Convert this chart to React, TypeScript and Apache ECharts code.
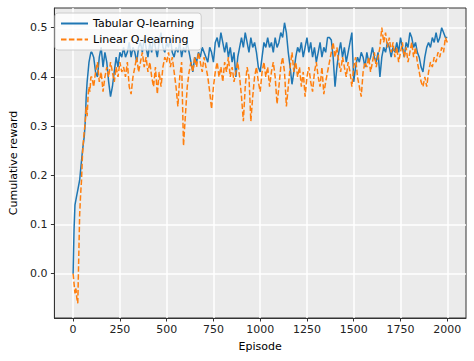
import React, { useEffect, useRef } from "react";
import * as echarts from "echarts";

const earlyEpisodes = [0, 5, 10, 15, 20, 25, 30, 35, 40, 45, 50, 55, 60, 65, 70, 75, 80, 85, 90, 95];

const tabularEarly = [0.0, 0.09, 0.14, 0.15, 0.16, 0.17, 0.18, 0.19, 0.21, 0.23, 0.25, 0.265, 0.28, 0.31, 0.36, 0.39, 0.41, 0.43, 0.44, 0.45];
const linearEarly = [0.0, -0.02, -0.04, -0.03, -0.05, -0.06, 0.03, 0.12, 0.16, 0.19, 0.24, 0.27, 0.29, 0.31, 0.34, 0.32, 0.36, 0.38, 0.37, 0.4];

// episodes 100..2000, every 10
const tabularMain = [
  0.45, 0.44, 0.41, 0.40, 0.44, 0.46, 0.42, 0.45, 0.43, 0.39,
  0.36, 0.38, 0.41, 0.44, 0.42, 0.45, 0.44, 0.46, 0.44, 0.45,
  0.47, 0.44, 0.46, 0.45, 0.43, 0.46, 0.47, 0.45, 0.48, 0.46,
  0.44, 0.47, 0.45, 0.48, 0.46, 0.44, 0.47, 0.49, 0.46, 0.45,
  0.47, 0.46, 0.48, 0.45, 0.44, 0.46, 0.45, 0.47, 0.44, 0.46,
  0.45, 0.47, 0.45, 0.43, 0.41, 0.44, 0.43, 0.45, 0.44, 0.46,
  0.45, 0.44, 0.43, 0.46, 0.45, 0.43, 0.47, 0.48, 0.46, 0.49,
  0.47, 0.45, 0.47, 0.44, 0.46, 0.43, 0.45, 0.40, 0.44, 0.46,
  0.48, 0.46, 0.49, 0.47, 0.45, 0.48, 0.46, 0.47, 0.45, 0.42,
  0.41, 0.44, 0.47, 0.46, 0.48, 0.46, 0.47, 0.45, 0.48, 0.46,
  0.47, 0.49, 0.48, 0.51, 0.49, 0.45, 0.42, 0.385, 0.41, 0.44,
  0.46, 0.45, 0.47, 0.44, 0.46, 0.48, 0.45, 0.47, 0.44, 0.46,
  0.43, 0.45, 0.47, 0.44, 0.46, 0.45, 0.48, 0.48, 0.475, 0.44,
  0.38, 0.42, 0.45, 0.47, 0.44, 0.46, 0.43, 0.45, 0.47, 0.49,
  0.39, 0.42, 0.44, 0.43, 0.45, 0.44, 0.42, 0.45, 0.43, 0.44,
  0.46, 0.44, 0.43, 0.45, 0.40, 0.44, 0.46, 0.45, 0.47, 0.46,
  0.44, 0.46, 0.45, 0.47, 0.45, 0.48, 0.46, 0.44, 0.47, 0.46,
  0.49, 0.48, 0.46, 0.47, 0.45, 0.44, 0.42, 0.41, 0.44, 0.46,
  0.47, 0.46, 0.48, 0.47, 0.49, 0.47, 0.48, 0.50, 0.49, 0.48,
  0.48,
];

const linearMain = [
  0.40, 0.38, 0.41, 0.43, 0.39, 0.41, 0.37, 0.40, 0.42, 0.40,
  0.43, 0.41, 0.39, 0.42, 0.40, 0.43, 0.41, 0.42, 0.40, 0.43,
  0.38, 0.365, 0.40, 0.42, 0.44, 0.41, 0.43, 0.45, 0.42, 0.44,
  0.41, 0.43, 0.40, 0.38, 0.42, 0.365, 0.41, 0.38, 0.42, 0.44,
  0.43, 0.45, 0.42, 0.44, 0.41, 0.38, 0.34, 0.40, 0.43, 0.26,
  0.32, 0.38, 0.41, 0.43, 0.41, 0.44, 0.42, 0.45, 0.43, 0.41,
  0.44, 0.42, 0.40, 0.37, 0.335, 0.38, 0.41, 0.43, 0.40, 0.42,
  0.39, 0.43, 0.41, 0.44, 0.40, 0.42, 0.39, 0.41, 0.43, 0.40,
  0.36, 0.31, 0.38, 0.42, 0.40, 0.31, 0.36, 0.40, 0.42, 0.39,
  0.37, 0.41, 0.43, 0.40, 0.42, 0.38, 0.41, 0.43, 0.40, 0.345,
  0.38, 0.42, 0.44, 0.41, 0.34, 0.38, 0.42, 0.45, 0.41, 0.43,
  0.40, 0.42, 0.38, 0.41, 0.36, 0.40, 0.42, 0.39, 0.37, 0.41,
  0.43, 0.40, 0.38, 0.42, 0.365, 0.39, 0.41, 0.43, 0.45, 0.47,
  0.44, 0.46, 0.43, 0.41, 0.44, 0.42, 0.40, 0.43, 0.41, 0.38,
  0.42, 0.44, 0.40, 0.38, 0.36, 0.41, 0.43, 0.42, 0.44, 0.41,
  0.43, 0.45, 0.42, 0.44, 0.46, 0.50, 0.47, 0.49, 0.46, 0.48,
  0.45, 0.47, 0.44, 0.46, 0.43, 0.45, 0.47, 0.44, 0.46, 0.43,
  0.45, 0.47, 0.44, 0.46, 0.43, 0.41, 0.39, 0.38, 0.40, 0.38,
  0.41, 0.43, 0.42, 0.44, 0.43, 0.45, 0.44, 0.46, 0.45, 0.48,
  0.47,
];

const xTicks = [0, 250, 500, 750, 1000, 1250, 1500, 1750, 2000];
const yTicks = [0.0, 0.1, 0.2, 0.3, 0.4, 0.5];

const mainEpisodes: number[] = [];
for (let i = 0; i < tabularMain.length; i++) mainEpisodes.push(100 + i * 10);

const episodes = [...earlyEpisodes, ...mainEpisodes];
const tabular = [...tabularEarly, ...tabularMain];
const linear = [...linearEarly, ...linearMain];

const FONT = "DejaVu Sans";

export default function App() {
  const ref = useRef<HTMLDivElement>(null);
  useEffect(() => {
    if (!ref.current) return;
    const chart = echarts.init(ref.current, undefined, { renderer: "svg" });
    const tickColor = "#333";
    chart.setOption({
      animation: false,
      grid: {
        left: 51,
        right: 8,
        top: 8,
        bottom: 43,
        show: true,
        backgroundColor: "#EBEBEB",
        borderColor: "#333",
        borderWidth: 1,
      },
      legend: {
        orient: "vertical",
        left: 55,
        top: 13,
        itemWidth: 27,
        itemHeight: 11,
        itemGap: 5,
        padding: [5, 7, 5, 5],
        backgroundColor: "rgba(255,255,255,0.8)",
        borderColor: "#CCCCCC",
        borderWidth: 1,
        borderRadius: 3,
        itemStyle: { opacity: 0 },
        textStyle: { fontFamily: FONT, fontSize: 11, color: "#000" },
        data: ["Tabular Q-learning", "Linear Q-learning"],
      },
      xAxis: {
        type: "value",
        min: -100,
        max: 2100,
        name: "Episode",
        nameLocation: "middle",
        nameGap: 23,
        nameTextStyle: { fontFamily: FONT, fontSize: 11, color: "#000" },
        axisLine: { show: true, onZero: false, lineStyle: { color: tickColor } },
        axisTick: { show: true, inside: false, length: 3.5, customValues: xTicks, lineStyle: { color: tickColor } },
        axisLabel: {
          margin: 6,
          customValues: xTicks,
          fontFamily: FONT,
          fontSize: 11,
          color: "#222",
          formatter: (v: number) => String(v),
        },
        splitLine: { show: true, lineStyle: { color: "#FFFFFF", width: 1.5 } },
      },
      yAxis: {
        type: "value",
        min: -0.09,
        max: 0.54,
        name: "Cumulative reward",
        nameLocation: "middle",
        nameGap: 32,
        nameTextStyle: { fontFamily: FONT, fontSize: 11, color: "#000" },
        axisLine: { show: true, onZero: false, lineStyle: { color: tickColor } },
        axisTick: { show: true, inside: false, length: 3.5, customValues: yTicks, lineStyle: { color: tickColor } },
        axisLabel: {
          margin: 7,
          customValues: yTicks,
          fontFamily: FONT,
          fontSize: 11,
          color: "#222",
          formatter: (v: number) => v.toFixed(1),
        },
        splitLine: { show: true, lineStyle: { color: "#FFFFFF", width: 1.5 } },
      },
      series: [
        {
          name: "Tabular Q-learning",
          type: "line",
          showSymbol: false,
          symbol: "none",
          data: episodes.map((e, i) => [e, tabular[i]]),
          lineStyle: { color: "#1f77b4", width: 1.5 },
          itemStyle: { color: "#1f77b4" },
        },
        {
          name: "Linear Q-learning",
          type: "line",
          showSymbol: false,
          symbol: "none",
          data: episodes.map((e, i) => [e, linear[i]]),
          lineStyle: { color: "#ff7f0e", width: 1.5, type: [5.5, 2.4] },
          itemStyle: { color: "#ff7f0e" },
        },
      ],
    });
    return () => chart.dispose();
  }, []);
  return <div ref={ref} style={{ width: 474, height: 361, position: "absolute", left: 0, top: 0 }} />;
}
